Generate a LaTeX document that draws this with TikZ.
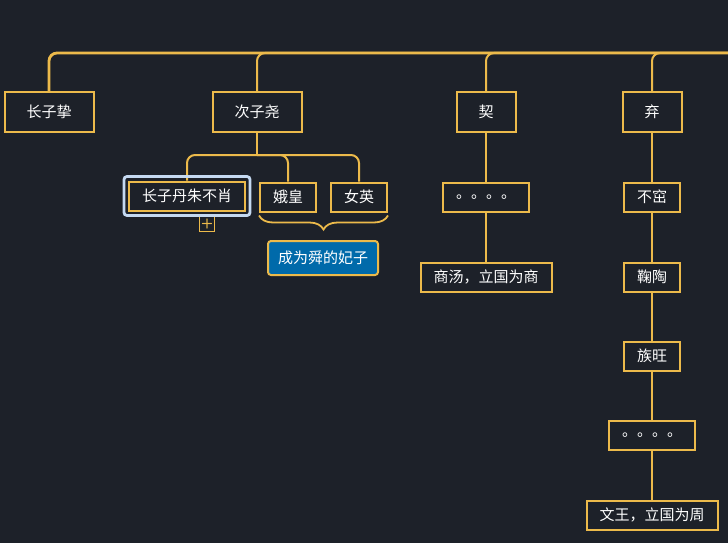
\documentclass[tikz,border=0pt]{standalone}
\usepackage{fontspec}
\setmainfont{Noto Sans CJK SC}
\usetikzlibrary{decorations.pathreplacing}

\definecolor{bgdark}{RGB}{29,33,41}
\definecolor{branch}{RGB}{236,186,75}
\definecolor{pickblue}{RGB}{197,217,241}
\definecolor{notefill}{RGB}{0,106,170}

\tikzset{
  topic/.style={draw=branch,line width=2pt,fill=bgdark,text=white,
    inner xsep=22pt,inner ysep=0pt,minimum height=40pt,font=\fontsize{15}{18}\selectfont},
  subtopic/.style={topic,inner xsep=13pt,minimum height=29pt},
  link/.style={draw=branch,line width=2pt,rounded corners=8pt},
}

\begin{document}
\begin{tikzpicture}[x=1pt,y=-1pt]
\fill[bgdark] (0,0) rectangle (728,543);
\useasboundingbox (0,0) rectangle (728,543);

\coordinate (root) at (728,53);
\coordinate (yaofork) at (257,155);

% first level
\node[topic] (zhi) at (49,112) {长子挚};
\node[topic] (yao) at (257,112) {次子尧};
\node[topic] (xie) at (486,112) {契};
\node[topic] (qi) at (652,112) {弃};

% children of yao
\node[subtopic] (danzhu) at (187,196) {长子丹朱不肖};
\node[subtopic] (ehuang) at (288,197) {娥皇};
\node[subtopic] (nvying) at (359,197) {女英};
\node[draw=branch,line width=1.6pt,fill=bgdark,text=branch,minimum size=15pt,inner sep=0pt,
  font=\sffamily\bfseries\fontsize{14}{14}\selectfont] (danzhuplus) at (207,224) {+};
\node[draw=branch,line width=2pt,fill=notefill,text=white,rounded corners=3pt,
  inner xsep=10pt,inner ysep=0pt,minimum height=34pt,font=\fontsize{15}{18}\selectfont] (fei) at (323,258) {成为舜的妃子};

% children of xie
\node[subtopic] (xiedots) at (486,197) {。。。。};
\node[subtopic] (shangtang) at (486,277) {商汤，立国为商};

% children of qi
\node[subtopic] (buzhu) at (652,197) {不窋};
\node[subtopic] (jutao) at (652,277) {鞠陶};
\node[subtopic] (zuwang) at (652,356) {族旺};
\node[subtopic] (qidots) at (652,435) {。。。。};
\node[subtopic] (wenwang) at (652,515) {文王，立国为周};

% connectors
\draw[link,line width=2.8pt] (root) -| (zhi.north);
\draw[link] (root) -| (yao.north);
\draw[link] (root) -| (xie.north);
\draw[link] (root) -| (qi.north);

\draw[link] (yao.south) -- (yaofork);
\draw[link] (yaofork) -| (danzhu.north);
\draw[link] (yaofork) -| (ehuang.north);
\draw[link] (yaofork) -| (nvying.north);

\draw[link] (xie.south) -- (xiedots.north);
\draw[link] (xiedots.south) -- (shangtang.north);

\draw[link] (qi.south) -- (buzhu.north);
\draw[link] (buzhu.south) -- (jutao.north);
\draw[link] (jutao.south) -- (zuwang.north);
\draw[link] (zuwang.south) -- (qidots.north);
\draw[link] (qidots.south) -- (wenwang.north);

% selection frame and brace
\draw[pickblue,line width=2.8pt,rounded corners=3pt]
  ([shift={(-4,-4)}]danzhu.north west) rectangle ([shift={(4,4)}]danzhu.south east);
\draw[branch,line width=1.8pt,decorate,decoration={brace,mirror,amplitude=14pt}]
  ([yshift=-3pt]ehuang.south west) -- ([yshift=-3pt]nvying.south east);
\end{tikzpicture}
\end{document}
